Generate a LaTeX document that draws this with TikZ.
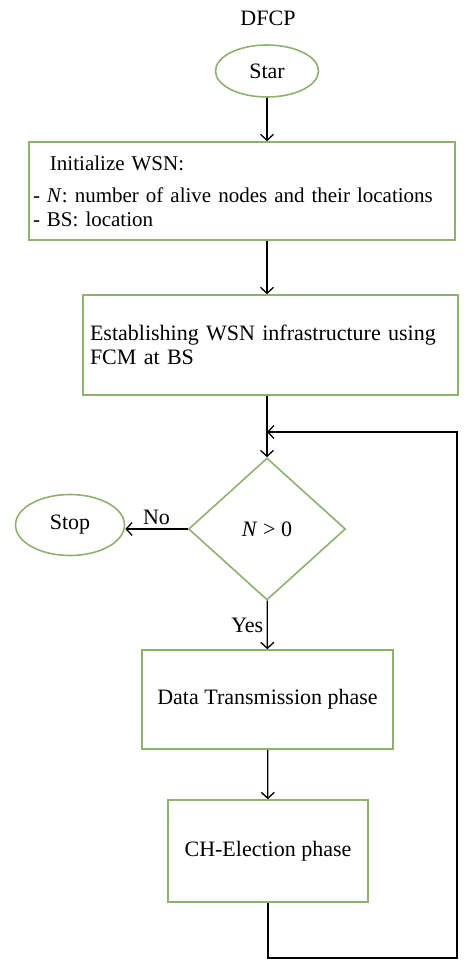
\documentclass[tikz,border=0pt]{standalone}
\usepackage{fontspec}
\setmainfont{Liberation Serif}
\usepackage{xcolor}
\definecolor{Sage}{HTML}{8FB16F}
\colorlet{cGreen}{Sage}
\usepackage{tikz}
\usetikzlibrary{arrows.meta, shapes.geometric, positioning}
\tikzset{
	x=1pt,
	y=-1pt,
	node distance = 1.5em,
	line width = 1.3pt,
	>={Straight Barb[length=6pt,width=13pt]},
	font = \fontsize{22}{24}\selectfont,
	terminal/.style={
		draw=cGreen,
		ellipse,
		line width=1.6pt,
		inner sep=0pt
	},
	process/.style={
		draw=cGreen,
		rectangle,
		line width=1.6pt
	},
	decision/.style={
		draw=cGreen,
		diamond,
		line width=1.6pt,
		inner sep=0pt
	},
	edge/.style={
		->,
		line width=1.3pt
	}
}

\begin{document}
\begin{tikzpicture}
\useasboundingbox (0,0) rectangle (474,976);
% ---
% DFCP flow
% ---
\node at (268,18) (title) {DFCP};
\node[terminal, minimum width=103pt, minimum height=52pt] at (267,71) (start) {Star};
\node[process, minimum width=426pt, minimum height=98pt, text width=418pt, inner xsep=4pt, align=left,
	font=\fontsize{21}{24}\selectfont] at (242,191) (init)
	{\hspace*{17pt}Initialize WSN:\\[8pt]- \textit{N}: number of alive nodes and their locations\\- BS: location};
\node[process, minimum width=375pt, minimum height=100pt, text width=361pt, inner xsep=7pt, align=left] at (270.5,345) (estab)
	{Establishing WSN infrastructure using\\FCM at BS};
\node[decision, minimum width=157pt, minimum height=142pt] at (267,529) (check) {\textit{N} > 0};
\node[terminal, minimum width=109pt, minimum height=61pt] at (70,525) (stop) {Stop};
\node[process, minimum width=251pt, minimum height=99pt] at (267.5,699.5) (data) {Data Transmission phase};
\node[process, minimum width=200pt, minimum height=102pt] at (268,851) (elect) {CH-Election phase};

\coordinate (back) at (457,958);
\coordinate (merge) at (267,432);

\draw[edge] (start) to (start.south |- init.north);
\draw[edge] (init.south -| start) to (estab.north -| start);
\draw[edge] (estab.south -| check) to (check);
\draw[edge] (check.west) to node[above] {No} (check.west -| stop.east);
\draw[edge] (check) to node[left] {Yes} (data);
\draw[edge] (data) to (elect);
\draw[edge] (elect.south) |- (back) |- (merge);
\end{tikzpicture}
\end{document}
